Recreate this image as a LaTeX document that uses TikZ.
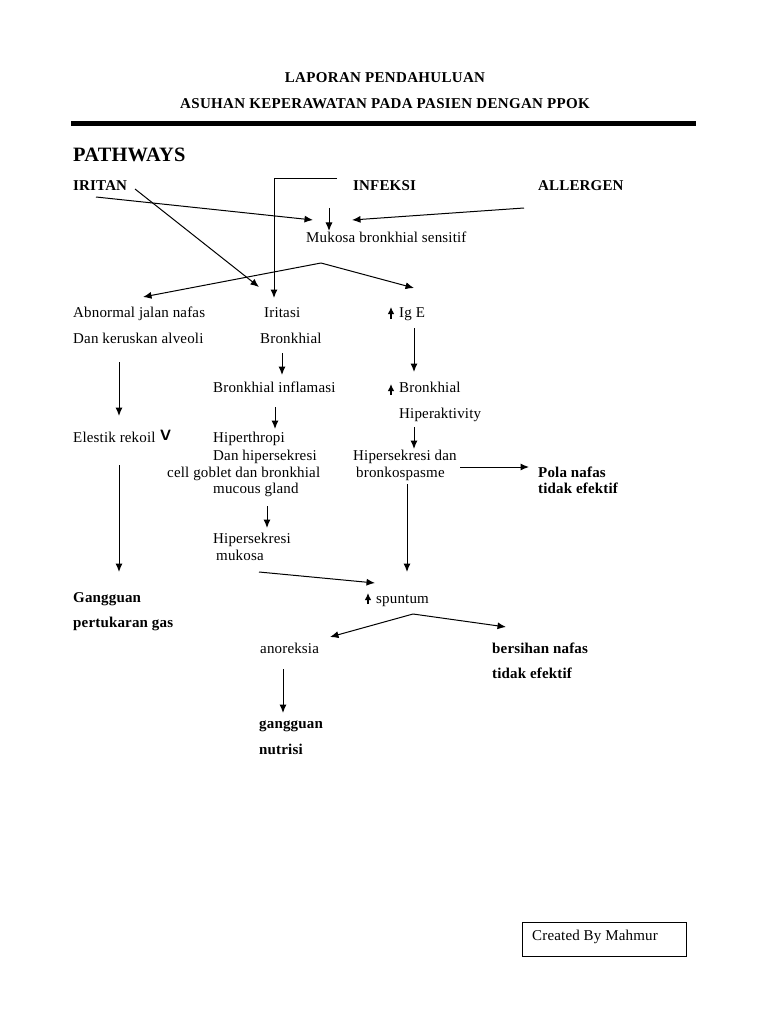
\documentclass[tikz,border=0pt]{standalone}
\usepackage{fontspec}
\setmainfont[LetterSpace=1.1]{Liberation Serif}
\newfontfamily\titlefont[LetterSpace=2.2]{Liberation Serif}
\usepackage{tikz}
\usetikzlibrary{arrows.meta}
\tikzset{
	txt/.style={inner sep=0pt, anchor=base west, font=\fontsize{15}{18}\selectfont},
	txtbold/.style={txt, font=\fontsize{15}{18}\selectfont\bfseries},
	title/.style={inner sep=0pt, anchor=base, font=\fontsize{15}{18}\titlefont\bfseries},
	arr/.style={-{Latex[length=8.5pt,width=7pt]}, line width=1pt},
	upmark/.style={-{Latex[length=7pt,width=6.5pt]}, line width=1.2pt}
}
\begin{document}
\begin{tikzpicture}[x=1pt,y=-1pt]
		\useasboundingbox (0,0) rectangle (768,1024);
		
		\node[title] (laporan) at (385,82.5) {LAPORAN PENDAHULUAN};
		\node[title] (asuhan) at (385,109) {ASUHAN KEPERAWATAN PADA PASIEN DENGAN PPOK};
		\draw [line width=5pt] (71,123.5) -- (696,123.5);
		\node[txtbold, font=\fontsize{20.4}{24}\selectfont\bfseries] (pathways) at (73,162) {PATHWAYS};
		
		\node[txtbold] (iritan) at (73,191) {IRITAN};
		\node[txtbold] (infeksi) at (353,191) {INFEKSI};
		\node[txtbold] (allergen) at (538,191) {ALLERGEN};
		\node[txt] (mukosa) at (306,242) {Mukosa bronkhial sensitif};
		
		\node[txt] (abnormal) at (73,317) {Abnormal jalan nafas};
		\node[txt] (keruskan) at (73,343) {Dan keruskan alveoli};
		\node[txt] (iritasi) at (264,317) {Iritasi};
		\node[txt] (bronkhial) at (260,343) {Bronkhial};
		\node[txt] (ige) at (399,317) {Ig E};
		\node[txt] (inflamasi) at (213,392) {Bronkhial inflamasi};
		\node[txt] (bronkhialup) at (399,392) {Bronkhial};
		\node[txt] (hiperaktivity) at (399,418) {Hiperaktivity};
		\node[txt] (elestik) at (73,442) {Elestik rekoil};
		\node[inner sep=0pt, anchor=base west, font=\fontsize{15}{18}\sffamily\bfseries] (turun) at (160,440) {V};
		\node[txt] (hiperthropi) at (213,442) {Hiperthropi};
		\node[txt] (hipersekresi) at (213,460) {Dan hipersekresi};
		\node[txt] (goblet) at (167,477) {cell goblet dan bronkhial};
		\node[txt] (gland) at (213,493) {mucous gland};
		\node[txt] (hiperdan) at (353,460) {Hipersekresi dan};
		\node[txt] (spasme) at (356,477) {bronkospasme};
		\node[txtbold] (pola) at (538,477) {Pola nafas};
		\node[txtbold] (tidakA) at (538,493) {tidak efektif};
		\node[txt] (hipermukosa) at (213,543) {Hipersekresi};
		\node[txt] (mukosaB) at (216,560) {mukosa};
		\node[txtbold] (gangguanA) at (73,602) {Gangguan};
		\node[txtbold] (pertukaran) at (73,627) {pertukaran gas};
		\node[txt] (spuntum) at (376,603) {spuntum};
		\node[txt] (anoreksia) at (260,653) {anoreksia};
		\node[txtbold] (bersihan) at (492,653) {bersihan nafas};
		\node[txtbold] (tidakB) at (492,678) {tidak efektif};
		\node[txtbold] (gangguanB) at (259,728) {gangguan};
		\node[txtbold] (nutrisi) at (259,754) {nutrisi};
		
		\node[draw=black, line width=0.9pt, minimum width=164pt, minimum height=34pt, inner sep=0pt] (created) at (604,939) {};
		\node[txt] (createdtxt) at (532,940) {Created By Mahmur};
		
		% arrows from iritan and infeksi
		\coordinate (a1) at (135,189); \coordinate (a2) at (259,287);
		\coordinate (b1) at (96,197); \coordinate (b2) at (313,220);
		\coordinate (c1) at (337,178.5); \coordinate (c2) at (274,178.5); \coordinate (c3) at (274,298);
		\coordinate (d1) at (329,208); \coordinate (d2) at (329,231);
		\coordinate (e1) at (524,208); \coordinate (e2) at (352,220);
		\draw [arr] (a1) -- (a2);
		\draw [arr] (b1) -- (b2);
		\draw [arr] (c1) -- (c2) -- (c3);
		\draw [arr] (d1) -- (d2);
		\draw [arr] (e1) -- (e2);
		
		% fork under mukosa
		\coordinate (f0) at (321,263); \coordinate (f1) at (143,297); \coordinate (f2) at (414,288);
		\draw [arr] (f0) -- (f1);
		\draw [arr] (f0) -- (f2);
		
		% small up marks
		\coordinate (u1) at (391,319); \coordinate (u2) at (391,307);
		\coordinate (u3) at (391,395); \coordinate (u4) at (391,384);
		\coordinate (u5) at (368,604); \coordinate (u6) at (368,593);
		\draw [upmark] (u1) -- (u2);
		\draw [upmark] (u3) -- (u4);
		\draw [upmark] (u5) -- (u6);
		
		% vertical arrows
		\coordinate (g1) at (119,362); \coordinate (g2) at (119,416);
		\coordinate (h1) at (282,353); \coordinate (h2) at (282,375);
		\coordinate (i1) at (275,407); \coordinate (i2) at (275,429);
		\coordinate (j1) at (119,465); \coordinate (j2) at (119,572);
		\coordinate (k1) at (267,506); \coordinate (k2) at (267,528);
		\coordinate (l1) at (414,328); \coordinate (l2) at (414,372);
		\coordinate (m1) at (414,427); \coordinate (m2) at (414,449);
		\coordinate (n1) at (407,484); \coordinate (n2) at (407,572);
		\coordinate (o1) at (283,669); \coordinate (o2) at (283,713);
		\draw [arr] (g1) -- (g2);
		\draw [arr] (h1) -- (h2);
		\draw [arr] (i1) -- (i2);
		\draw [arr] (j1) -- (j2);
		\draw [arr] (k1) -- (k2);
		\draw [arr] (l1) -- (l2);
		\draw [arr] (m1) -- (m2);
		\draw [arr] (n1) -- (n2);
		\draw [arr] (o1) -- (o2);
		
		% pola nafas and spuntum
		\coordinate (p1) at (460,467); \coordinate (p2) at (529,467);
		\coordinate (q1) at (259,572); \coordinate (q2) at (375,583);
		\coordinate (r0) at (413,614); \coordinate (r1) at (330,637); \coordinate (r2) at (506,627);
		\draw [arr] (p1) -- (p2);
		\draw [arr] (q1) -- (q2);
		\draw [arr] (r0) -- (r1);
		\draw [arr] (r0) -- (r2);
	\end{tikzpicture}
\end{document}
